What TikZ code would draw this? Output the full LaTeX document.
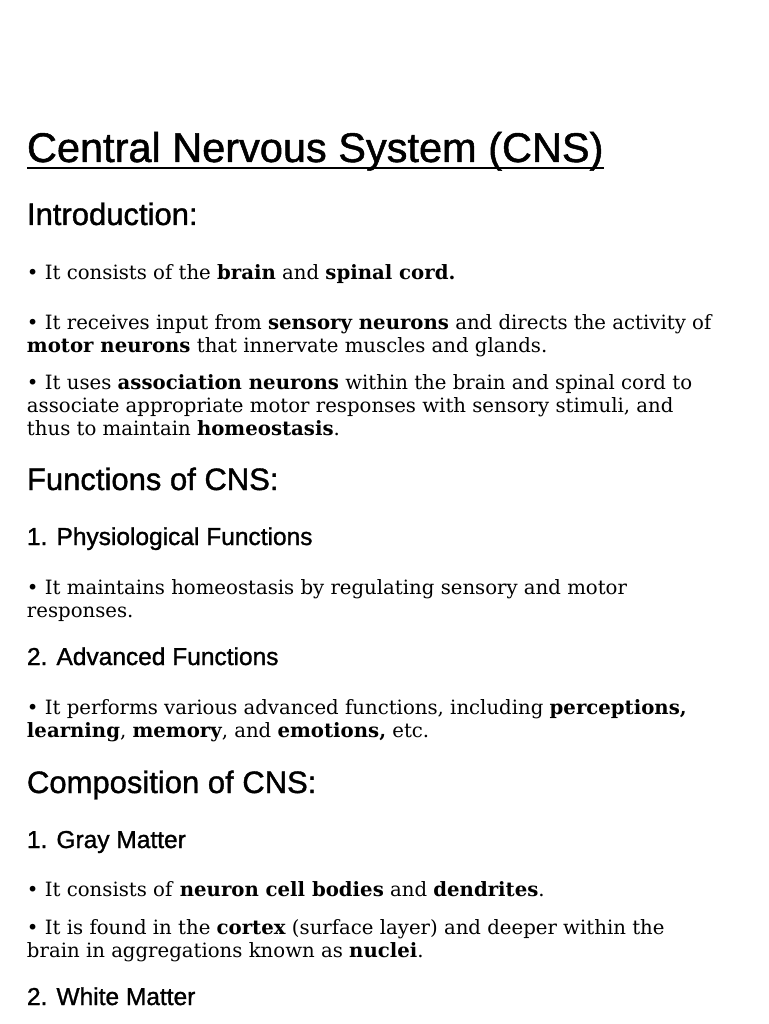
\documentclass[tikz,border=0pt]{standalone}
\usepackage{fontspec}
\setmainfont{DejaVu Serif}
\newfontfamily\hd[FakeBold=1.2]{Liberation Sans}
\begin{document}
\begin{tikzpicture}[x=1pt,y=-1pt,
  every node/.style={anchor=base west,inner sep=0pt,outer sep=0pt},
  bd/.style={font=\fontsize{19.7}{23}\selectfont},
  h1/.style={font=\hd\fontsize{31}{36}\selectfont},
  h2/.style={font=\hd\fontsize{24.5}{28}\selectfont}]
\useasboundingbox[fill=white] (0,0) rectangle (768,1024);
\node[font=\hd\fontsize{41.5}{50}\selectfont] (t) at (27,162) {Central Nervous System (CNS)};
\draw[line width=2pt] ([yshift=-6pt]t.base west) -- ([yshift=-6pt]t.base east);
\node[h1] (i) at (27,225) {Introduction:};
\node[bd] (a1) at (27,279) {• It consists of the \textbf{brain} and \textbf{spinal cord.}};
\node[bd] (a2) at (27,329) {• It receives input from \textbf{sensory neurons} and directs the activity of};
\node[bd] (a3) at (27,352) {\textbf{motor neurons} that innervate muscles and glands.};
\node[bd] (a4) at (27,389) {• It uses \textbf{association neurons} within the brain and spinal cord to};
\node[bd] (a5) at (27,412) {associate appropriate motor responses with sensory stimuli, and};
\node[bd] (a6) at (27,435) {thus to maintain \textbf{homeostasis}.};
\node[h1] (f) at (27,490) {Functions of CNS:};
\node[h2] (f1) at (27,545) {1. Physiological Functions};
\node[bd] (b1) at (27,594) {• It maintains homeostasis by regulating sensory and motor};
\node[bd] (b2) at (27,617) {responses.};
\node[h2] (f2) at (27,665) {2. Advanced Functions};
\node[bd] (b3) at (27,714) {• It performs various advanced functions, including \textbf{perceptions,}};
\node[bd] (b4) at (27,737) {\textbf{learning}, \textbf{memory}, and \textbf{emotions,} etc.};
\node[h1] (c) at (27,793) {Composition of CNS:};
\node[h2] (c1) at (27,848) {1. Gray Matter};
\node[bd] (d1) at (27,896) {• It consists of \textbf{neuron cell bodies} and \textbf{dendrites}.};
\node[bd] (d2) at (27,934) {• It is found in the \textbf{cortex} (surface layer) and deeper within the};
\node[bd] (d3) at (27,957) {brain in aggregations known as \textbf{nuclei}.};
\node[h2] (c2) at (27,1005) {2. White Matter};
\end{tikzpicture}
\end{document}
